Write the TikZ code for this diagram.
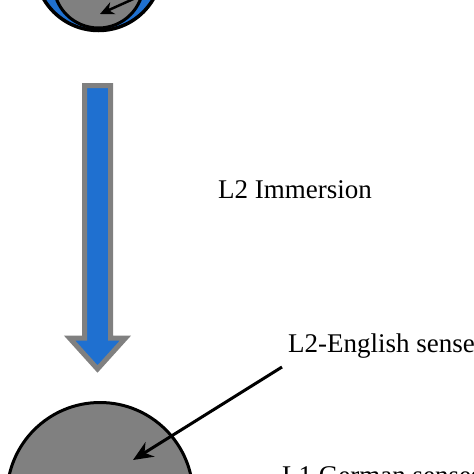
\documentclass[tikz,border=0pt]{standalone}
\usepackage{fontspec}
\setmainfont{Liberation Serif}
\usetikzlibrary{arrows.meta}
\definecolor{bigblue}{RGB}{31,112,208}
\definecolor{midgray}{RGB}{128,128,128}
\begin{document}
\begin{tikzpicture}[x=1pt,y=-1pt,
  lbl/.style={anchor=base west,inner sep=0pt,font=\fontsize{27}{32}\selectfont},
  ball/.style={circle,draw=black,fill=midgray,inner sep=0pt},
  pointer/.style={draw=black,line width=3pt,-{Stealth[length=20pt,width=17pt]}}]
\useasboundingbox (0,0) rectangle (474,474);
\clip (0,0) rectangle (474,474);
\fill[white] (0,0) rectangle (474,474);
% top eye
\node[circle,draw=black,fill=bigblue,line width=3.5pt,minimum size=127pt,inner sep=0pt] (topout) at (98.5,-33) {};
\node[ball,line width=3pt,minimum size=90pt] (topin) at (98.5,-17) {};
\coordinate (tstart) at (140,-4);
\coordinate (ttip) at (100,14);
\draw[draw=black,line width=2.5pt,-{Stealth[length=14pt,width=13pt]}] (tstart) -- (ttip);
% big immersion arrow
\path[draw=midgray,fill=bigblue,line width=5pt,line join=miter]
  (84.5,85.5) -- (110.5,85.5) -- (110.5,338) -- (125.5,338) -- (97.5,369)
  -- (69.5,338) -- (84.5,338) -- cycle;
\node[lbl] (imm) at (218,198) {L2 Immersion};
% bottom circle
\node[ball,line width=3pt,minimum size=186pt] (bot) at (100,495.5) {};
\node[lbl] (eng) at (288,352) {L2-English senses};
\node[lbl] (ger) at (282,484) {L1 German senses};
\coordinate (bstart) at (282,367);
\coordinate (btip) at (133,460);
\draw[pointer] (bstart) -- (btip);
\end{tikzpicture}
\end{document}
